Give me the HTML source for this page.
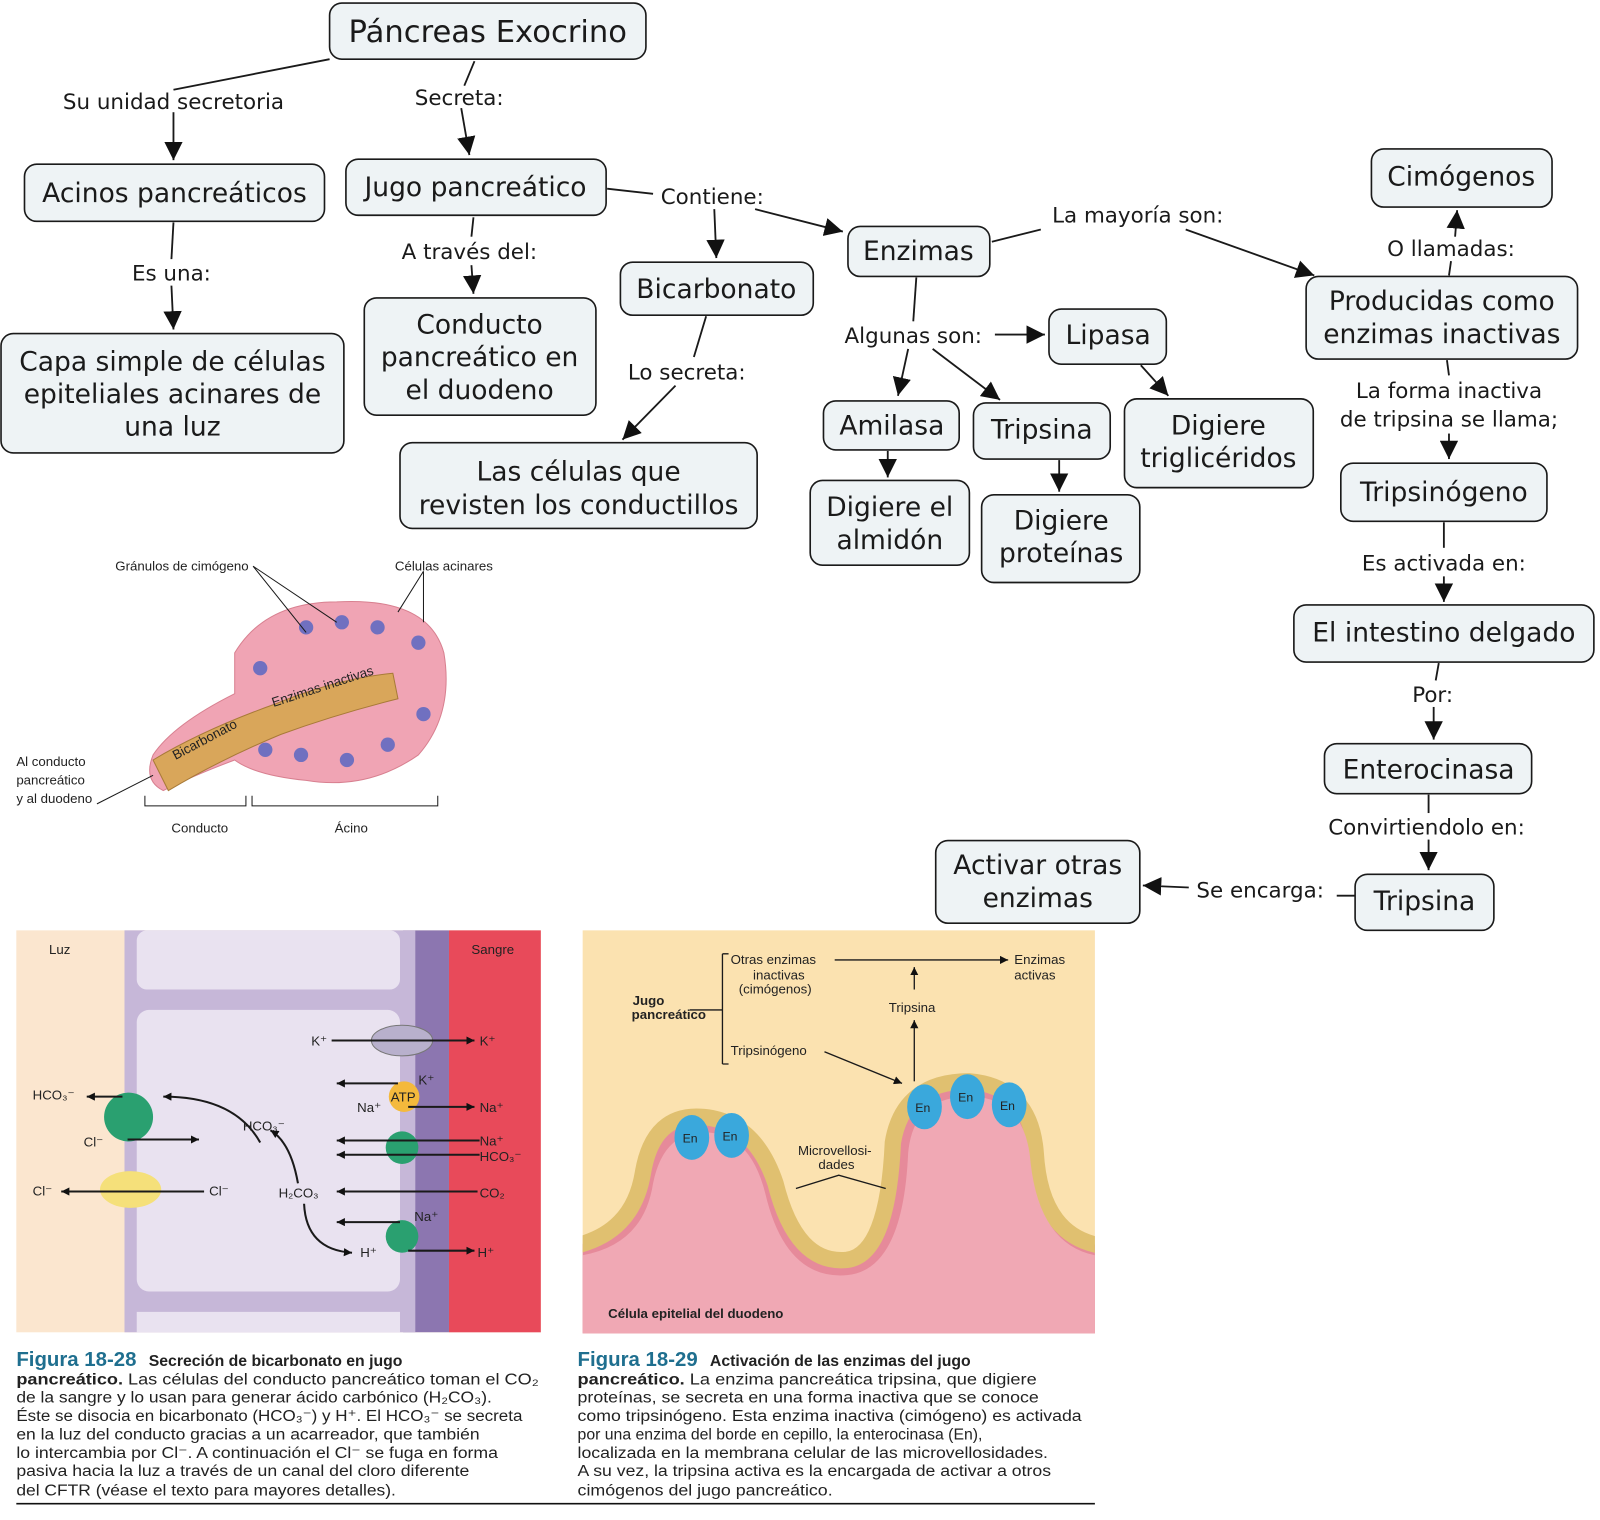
<!DOCTYPE html>
<html><head><meta charset="utf-8"><style>
html,body{margin:0;padding:0;background:#fff}
svg{display:block}
.n{fill:#eef3f5;stroke:#1a1a1a;stroke-width:1.6}
.t{font-family:"DejaVu Sans",sans-serif;font-size:26px;fill:#1a1a1a;text-anchor:middle}
.l{font-family:"DejaVu Sans",sans-serif;font-size:21px;fill:#1a1a1a;text-anchor:middle}
.e{stroke:#1a1a1a;stroke-width:1.8;fill:none}
.s{font-family:"Liberation Sans",sans-serif;font-size:13px;fill:#222}
.c{font-family:"Liberation Sans",sans-serif;font-size:15.5px;fill:#222}
.cb{font-family:"Liberation Sans",sans-serif;font-size:15.5px;font-weight:bold;fill:#222}
.fh{font-family:"Liberation Sans",sans-serif;font-size:20px;font-weight:bold;fill:#1f6f8f}
</style></head><body>
<svg width="1600" height="1520" viewBox="0 0 1568 1490" preserveAspectRatio="none" xmlns="http://www.w3.org/2000/svg">
<defs>
<marker id="b" viewBox="0 0 10 10" markerWidth="18" markerHeight="18" refX="10" refY="5" orient="auto" markerUnits="userSpaceOnUse"><path d="M0,0 L10,5 L0,10 z" fill="#111"/></marker>
<marker id="s" viewBox="0 0 10 10" markerWidth="8" markerHeight="8" refX="10" refY="5" orient="auto" markerUnits="userSpaceOnUse"><path d="M0,0 L10,5 L0,10 z" fill="#111"/></marker>
<clipPath id="f29"><rect x="571" y="912" width="502" height="395"/></clipPath>
</defs>

<g class="e">
<path d="M323,58 L170,88"/><path d="M170,110 L170,157" marker-end="url(#b)"/>
<path d="M465,60 L455,84"/><path d="M452,106 L460,152" marker-end="url(#b)"/>
<path d="M170,218 L168,254"/><path d="M168,280 L170,323" marker-end="url(#b)"/>
<path d="M595,185 L640,190"/><path d="M740,205 L826,227" marker-end="url(#b)"/><path d="M700,205 L702,253" marker-end="url(#b)"/>
<path d="M464,213 L462,232"/><path d="M462,260 L464,288" marker-end="url(#b)"/>
<path d="M972,237 L1020,225"/><path d="M1162,225 L1288,270" marker-end="url(#b)"/>
<path d="M1420,270 L1422,256"/><path d="M1426,232 L1428,206" marker-end="url(#b)"/>
<path d="M898,272 L895,315"/><path d="M890,342 L880,388" marker-end="url(#b)"/><path d="M914,342 L980,392" marker-end="url(#b)"/><path d="M975,328 L1024,328" marker-end="url(#b)"/>
<path d="M692,310 L680,350"/><path d="M662,378 L610,431" marker-end="url(#b)"/>
<path d="M1118,358 L1145,388" marker-end="url(#b)"/>
<path d="M870,442 L870,468" marker-end="url(#b)"/><path d="M1038,451 L1038,482" marker-end="url(#b)"/>
<path d="M1418,353 L1420,368"/><path d="M1420,425 L1420,450" marker-end="url(#b)"/>
<path d="M1415,512 L1415,537"/><path d="M1415,565 L1415,590" marker-end="url(#b)"/>
<path d="M1410,650 L1407,667"/><path d="M1405,693 L1405,725" marker-end="url(#b)"/>
<path d="M1400,779 L1400,797"/><path d="M1400,823 L1400,853" marker-end="url(#b)"/>
<path d="M1328,878 L1310,878"/><path d="M1165,870 L1120,868" marker-end="url(#b)"/>
</g>

<g class="l">
<text x="170" y="107">Su unidad secretoria</text>
<text x="450" y="103">Secreta:</text>
<text x="698" y="200">Contiene:</text>
<text x="460" y="254">A través del:</text>
<text x="168" y="275">Es una:</text>
<text x="1115" y="218">La mayoría son:</text>
<text x="1422" y="251">O llamadas:</text>
<text x="895" y="336">Algunas son:</text>
<text x="673" y="372">Lo secreta:</text>
<text x="1420" y="390">La forma inactiva</text>
<text x="1420" y="418">de tripsina se llama;</text>
<text x="1415" y="559">Es activada en:</text>
<text x="1404" y="688">Por:</text>
<text x="1398" y="818">Convirtiendolo en:</text>
<text x="1235" y="880">Se encarga:</text>
</g>

<rect class="n" x="323" y="3" width="310" height="55" rx="12"/><text class="t" x="478" y="41" style="font-size:30px">Páncreas Exocrino</text>
<rect class="n" x="24" y="161" width="294" height="56" rx="12"/><text class="t" x="171" y="198">Acinos pancreáticos</text>
<rect class="n" x="339" y="156" width="255" height="55" rx="12"/><text class="t" x="466" y="192">Jugo pancreático</text>
<rect class="n" x="1" y="327" width="336" height="117" rx="12"/><text class="t" x="169" y="363">Capa simple de células</text><text class="t" x="169" y="395">epiteliales acinares de</text><text class="t" x="169" y="427">una luz</text>
<rect class="n" x="357" y="292" width="227" height="115" rx="12"/><text class="t" x="470" y="327">Conducto</text><text class="t" x="470" y="359">pancreático en</text><text class="t" x="470" y="391">el duodeno</text>
<rect class="n" x="608" y="257" width="189" height="52" rx="12"/><text class="t" x="702" y="292">Bicarbonato</text>
<rect class="n" x="831" y="222" width="139" height="49" rx="12"/><text class="t" x="900" y="255">Enzimas</text>
<rect class="n" x="1344" y="146" width="177" height="57" rx="12"/><text class="t" x="1432" y="182">Cimógenos</text>
<rect class="n" x="1280" y="271" width="266" height="81" rx="12"/><text class="t" x="1413" y="304">Producidas como</text><text class="t" x="1413" y="336">enzimas inactivas</text>
<rect class="n" x="1028" y="303" width="115" height="54" rx="12"/><text class="t" x="1086" y="337">Lipasa</text>
<rect class="n" x="807" y="393" width="133" height="48" rx="12"/><text class="t" x="874" y="426">Amilasa</text>
<rect class="n" x="954" y="395" width="134" height="55" rx="12"/><text class="t" x="1021" y="430">Tripsina</text>
<rect class="n" x="1102" y="391" width="185" height="87" rx="12"/><text class="t" x="1194" y="426">Digiere</text><text class="t" x="1194" y="458">triglicéridos</text>
<rect class="n" x="392" y="434" width="350" height="84" rx="12"/><text class="t" x="567" y="471">Las  células que</text><text class="t" x="567" y="504">revisten los conductillos</text>
<rect class="n" x="794" y="471" width="156" height="83" rx="12"/><text class="t" x="872" y="506">Digiere el</text><text class="t" x="872" y="538">almidón</text>
<rect class="n" x="962" y="485" width="155" height="86" rx="12"/><text class="t" x="1040" y="519">Digiere</text><text class="t" x="1040" y="551">proteínas</text>
<rect class="n" x="1314" y="454" width="202" height="57" rx="12"/><text class="t" x="1415" y="491">Tripsinógeno</text>
<rect class="n" x="1268" y="593" width="294" height="56" rx="12"/><text class="t" x="1415" y="629">El intestino delgado</text>
<rect class="n" x="1298" y="729" width="203" height="49" rx="12"/><text class="t" x="1400" y="763">Enterocinasa</text>
<rect class="n" x="1328" y="857" width="136" height="55" rx="12"/><text class="t" x="1396" y="892">Tripsina</text>
<rect class="n" x="917" y="824" width="200" height="81" rx="12"/><text class="t" x="1017" y="857">Activar otras</text><text class="t" x="1017" y="889">enzimas</text>

<g>
<path d="M230,640 Q260,590 330,590 Q420,585 435,640 Q445,700 410,740 Q360,775 300,765 Q250,760 230,745 Q190,760 160,775 Q140,765 150,740 Q170,710 230,680 Z" fill="#f0a4b4" stroke="#d88090"/>
<path d="M150,745 Q200,715 270,690 Q330,665 385,660 L390,685 Q330,700 275,720 Q215,745 165,775 Z" fill="#d9a65a" stroke="#a87a38"/>
<g fill="#7070c0"><circle cx="300" cy="615" r="7"/><circle cx="335" cy="610" r="7"/><circle cx="370" cy="615" r="7"/><circle cx="410" cy="630" r="7"/><circle cx="255" cy="655" r="7"/><circle cx="415" cy="700" r="7"/><circle cx="380" cy="730" r="7"/><circle cx="340" cy="745" r="7"/><circle cx="295" cy="740" r="7"/><circle cx="260" cy="735" r="7"/></g>
<text class="s" x="113" y="559">Gránulos de cimógeno</text><text class="s" x="387" y="559">Células acinares</text>
<text class="s" x="268" y="693" transform="rotate(-18 268 693)">Enzimas inactivas</text>
<text class="s" x="172" y="745" transform="rotate(-28 172 745)">Bicarbonato</text>
<text class="s" x="16" y="751">Al conducto</text><text class="s" x="16" y="769">pancreático</text><text class="s" x="16" y="787">y al duodeno</text>
<path d="M142,780 V790 H241 V780 M247,780 V790 H429 V780" class="e" style="stroke-width:1"/>
<text class="s" x="168" y="816">Conducto</text><text class="s" x="328" y="816">Ácino</text>
<path d="M248,555 L300,620 M248,555 L330,610 M415,560 L415,610 M415,560 L390,600 M150,760 L95,788" class="e" style="stroke-width:1"/>
</g>

<rect x="16" y="912" width="514" height="394" fill="#fbe6cf"/>
<rect x="440" y="912" width="90" height="394" fill="#e84a5a"/>
<path d="M395,912 L440,912 L440,1306 L395,1306 Z" fill="#8c76b0"/>
<rect x="122" y="912" width="285" height="394" fill="#c6b7d8"/>
<rect x="134" y="912" width="258" height="58" rx="10" fill="#e9e2f0"/>
<rect x="134" y="990" width="258" height="276" rx="12" fill="#e9e2f0"/>
<rect x="134" y="1286" width="258" height="20" fill="#e9e2f0"/>
<circle cx="126" cy="1095" r="24" fill="#2aa070"/><ellipse cx="128" cy="1166" rx="30" ry="18" fill="#f5e07a"/>
<circle cx="394" cy="1125" r="16" fill="#2aa070"/><circle cx="394" cy="1212" r="16" fill="#2aa070"/><circle cx="396" cy="1075" r="15" fill="#f4b93c"/>
<ellipse cx="394" cy="1020" rx="30" ry="15" fill="#b8b0cc" stroke="#777"/>
<g class="s"><text x="48" y="935">Luz</text><text x="462" y="935">Sangre</text><text x="305" y="1025">K⁺</text><text x="470" y="1025">K⁺</text><text x="410" y="1063">K⁺</text><text x="350" y="1090">Na⁺</text><text x="383" y="1080">ATP</text><text x="470" y="1090">Na⁺</text><text x="32" y="1078">HCO₃⁻</text><text x="238" y="1108">HCO₃⁻</text><text x="82" y="1124">Cl⁻</text><text x="470" y="1123">Na⁺</text><text x="470" y="1138">HCO₃⁻</text><text x="32" y="1172">Cl⁻</text><text x="205" y="1172">Cl⁻</text><text x="273" y="1174">H₂CO₃</text><text x="470" y="1174">CO₂</text><text x="406" y="1197">Na⁺</text><text x="353" y="1232">H⁺</text><text x="468" y="1232">H⁺</text></g>
<g class="e" style="stroke-width:2">
<path d="M325,1020 H465" marker-end="url(#s)"/><path d="M390,1062 H330" marker-end="url(#s)"/><path d="M400,1085 H465" marker-end="url(#s)"/><path d="M470,1118 H330" marker-end="url(#s)"/><path d="M470,1132 H330" marker-end="url(#s)"/><path d="M468,1168 H330" marker-end="url(#s)"/><path d="M392,1198 H330" marker-end="url(#s)"/><path d="M400,1226 H465" marker-end="url(#s)"/><path d="M120,1075 H85" marker-end="url(#s)"/><path d="M125,1117 H195" marker-end="url(#s)"/><path d="M200,1168 H60" marker-end="url(#s)"/><path d="M255,1120 Q230,1075 160,1075" marker-end="url(#s)"/><path d="M298,1180 Q300,1225 345,1228" marker-end="url(#s)"/><path d="M292,1160 Q285,1120 265,1108" marker-end="url(#s)"/></g>

<rect x="571" y="912" width="502" height="395" fill="#fbe2b0"/>
<g clip-path="url(#f29)">
<path d="M560,1222 Q620,1210 630,1150 Q640,1090 690,1095 Q740,1100 760,1160 Q780,1240 830,1235 Q870,1230 875,1120 Q885,1060 950,1060 Q1010,1065 1015,1130 Q1020,1215 1085,1222 L1085,1320 L560,1320 Z" fill="#e68a9a" stroke="#e0c070" stroke-width="16"/>
<path d="M560,1232 L560,1320 L1085,1320 L1085,1232 Q1020,1228 1010,1140 Q1005,1075 950,1075 Q895,1075 890,1130 Q885,1245 830,1250 Q770,1255 750,1170 Q735,1110 690,1110 Q650,1110 640,1160 Q630,1225 560,1232 Z" fill="#f0a8b4"/>
</g>
<g fill="#3aa8dc"><ellipse cx="678" cy="1115" rx="17" ry="22"/><ellipse cx="717" cy="1113" rx="17" ry="22"/><ellipse cx="906" cy="1085" rx="17" ry="22"/><ellipse cx="948" cy="1075" rx="17" ry="22"/><ellipse cx="989" cy="1083" rx="17" ry="22"/></g>
<g class="s" style="font-size:12px"><text x="669" y="1120">En</text><text x="708" y="1118">En</text><text x="897" y="1090">En</text><text x="939" y="1080">En</text><text x="980" y="1088">En</text></g>
<g class="s"><text x="716" y="945">Otras enzimas</text><text x="738" y="960">inactivas</text><text x="724" y="974">(cimógenos)</text><text x="994" y="945">Enzimas</text><text x="994" y="960">activas</text><text x="620" y="985" font-weight="bold">Jugo</text><text x="619" y="999" font-weight="bold">pancreático</text><text x="871" y="992">Tripsina</text><text x="716" y="1034">Tripsinógeno</text><text x="782" y="1132">Microvellosi-</text><text x="802" y="1146">dades</text><text x="596" y="1292" font-weight="bold">Célula epitelial del duodeno</text></g>
<g class="e" style="stroke-width:1.3"><path d="M818,941 H988" marker-end="url(#s)"/><path d="M896,970 V948" marker-end="url(#s)"/><path d="M896,1060 V1000" marker-end="url(#s)"/><path d="M808,1031 L884,1062" marker-end="url(#s)"/><path d="M708,935 V1043 M708,935 H714 M708,1043 H714 M676,990 H708"/><path d="M780,1165 L822,1152 L868,1165"/></g>

<text x="16" y="1339"><tspan class="fh">Figura 18-28</tspan><tspan class="cb" dx="12">Secreción de bicarbonato en jugo</tspan></text>
<text x="16" y="1357" textLength="512" lengthAdjust="spacingAndGlyphs"><tspan class="cb">pancreático.</tspan><tspan class="c"> Las células del conducto pancreático toman el CO₂</tspan></text>
<text class="c" x="16" y="1375" textLength="466" lengthAdjust="spacingAndGlyphs">de la sangre y lo usan para generar ácido carbónico (H₂CO₃).</text>
<text class="c" x="16" y="1393" textLength="496" lengthAdjust="spacingAndGlyphs">Éste se disocia en bicarbonato (HCO₃⁻) y H⁺. El HCO₃⁻ se secreta</text>
<text class="c" x="16" y="1411" textLength="454" lengthAdjust="spacingAndGlyphs">en la luz del conducto gracias a un acarreador, que también</text>
<text class="c" x="16" y="1429" textLength="472" lengthAdjust="spacingAndGlyphs">lo intercambia por Cl⁻. A continuación el Cl⁻ se fuga en forma</text>
<text class="c" x="16" y="1447" textLength="444" lengthAdjust="spacingAndGlyphs">pasiva hacia la luz a través de un canal del cloro diferente</text>
<text class="c" x="16" y="1466" textLength="372" lengthAdjust="spacingAndGlyphs">del CFTR (véase el texto para mayores detalles).</text>
<text x="566" y="1339"><tspan class="fh">Figura 18-29</tspan><tspan class="cb" dx="12">Activación de las enzimas del jugo</tspan></text>
<text x="566" y="1357" textLength="450" lengthAdjust="spacingAndGlyphs"><tspan class="cb">pancreático.</tspan><tspan class="c"> La enzima pancreática tripsina, que digiere</tspan></text>
<text class="c" x="566" y="1375" textLength="452" lengthAdjust="spacingAndGlyphs">proteínas, se secreta en una forma inactiva que se conoce</text>
<text class="c" x="566" y="1393" textLength="494" lengthAdjust="spacingAndGlyphs">como tripsinógeno. Esta enzima inactiva (cimógeno) es activada</text>
<text class="c" x="566" y="1411">por una enzima del borde en cepillo, la enterocinasa (En),</text>
<text class="c" x="566" y="1429" textLength="461" lengthAdjust="spacingAndGlyphs">localizada en la membrana celular de las microvellosidades.</text>
<text class="c" x="566" y="1447" textLength="464" lengthAdjust="spacingAndGlyphs">A su vez, la tripsina activa es la encargada de activar a otros</text>
<text class="c" x="566" y="1466" textLength="250" lengthAdjust="spacingAndGlyphs">cimógenos del jugo pancreático.</text>
<path d="M16,1474 H1073" stroke="#111" stroke-width="1.6"/>
</svg>
</body></html>
